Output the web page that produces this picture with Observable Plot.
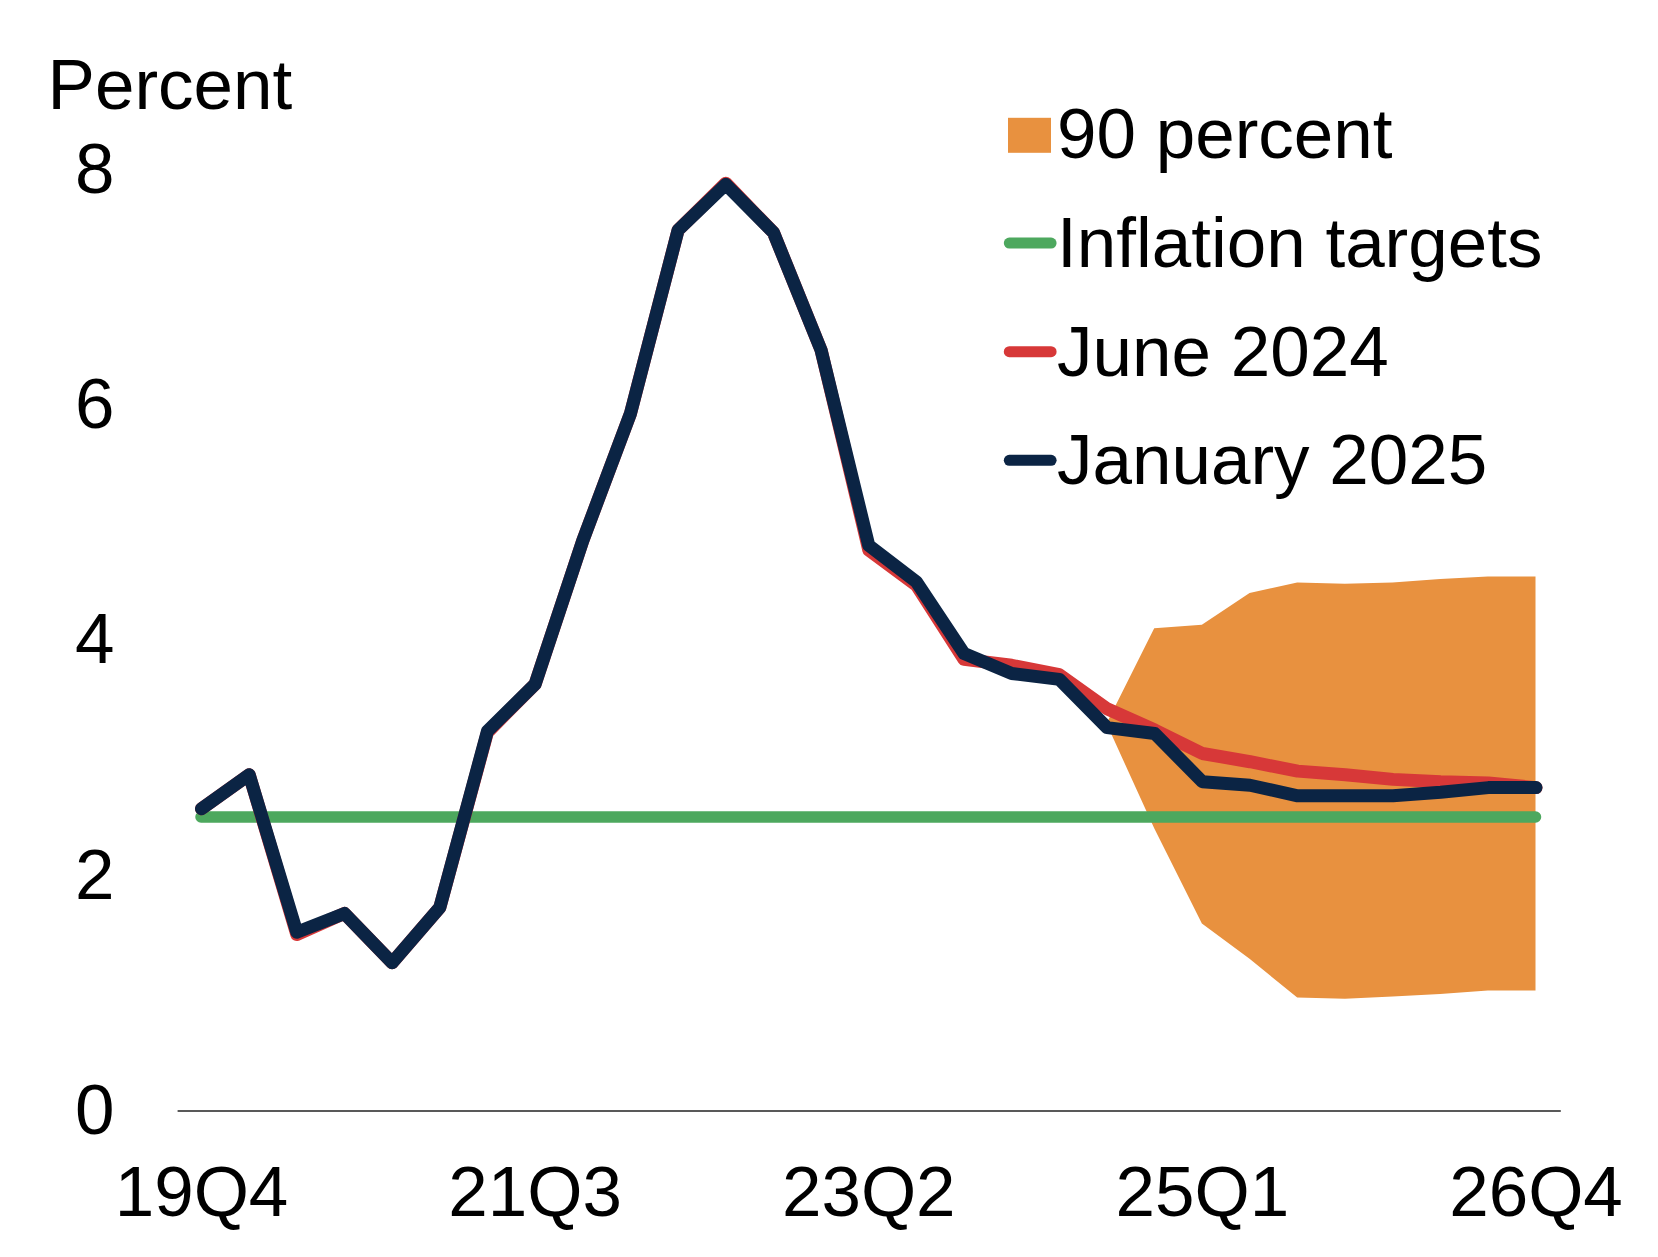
<!DOCTYPE html>
<html>
<head>
<meta charset="utf-8">
<script src="https://cdn.jsdelivr.net/npm/d3@7"></script>
<script src="https://cdn.jsdelivr.net/npm/@observablehq/plot@0.6"></script>
<style>
  html, body { margin: 0; padding: 0; background: #fff; }
  #chart { position: relative; width: 1658px; height: 1257px; }
  #chart svg { font-family: "Liberation Sans", Arial, Helvetica, sans-serif; }
</style>
</head>
<body>
<div id="chart"></div>
<script>
// Quarters on the horizontal axis
const quarters = ["19Q4","20Q1","20Q2","20Q3","20Q4","21Q1","21Q2","21Q3","21Q4",
  "22Q1","22Q2","22Q3","22Q4","23Q1","23Q2","23Q3","23Q4","24Q1","24Q2","24Q3","24Q4",
  "25Q1","25Q2","25Q3","25Q4","26Q1","26Q2","26Q3","26Q4"];
const xTickLabels = ["19Q4","21Q3","23Q2","25Q1","26Q4"];
const yTicks = [0, 2, 4, 6, 8];

// Inflation, percent: latest (January 2025) and previous (June 2024) paths
const jan2025 = [2.57, 2.86, 1.52, 1.68, 1.26, 1.73, 3.23, 3.63, 4.85, 5.93, 7.49, 7.88, 7.47, 6.47,
  4.81, 4.50, 3.89, 3.72, 3.67, 3.26, 3.21, 2.80, 2.77, 2.68, 2.68, 2.68, 2.71, 2.75, 2.75];
const jun2024 = [2.57, 2.86, 1.50, 1.68, 1.26, 1.73, 3.22, 3.63, 4.85, 5.93, 7.49, 7.89, 7.47, 6.47,
  4.77, 4.47, 3.84, 3.79, 3.71, 3.42, 3.24, 3.04, 2.97, 2.89, 2.86, 2.82, 2.80, 2.79, 2.75];

// 90 percent confidence band around the forecast
const bandQuarters = ["24Q3","24Q4","25Q1","25Q2","25Q3","25Q4","26Q1","26Q2","26Q3","26Q4"];
const bandLow  = [3.29, 2.40, 1.59, 1.29, 0.96, 0.95, 0.97, 0.99, 1.02, 1.02];
const bandHigh = [3.29, 4.10, 4.13, 4.40, 4.49, 4.48, 4.49, 4.52, 4.54, 4.54];

// Inflation targets
const targetValue = 2.5;

const colors = {
  band: "#E8913F",
  target: "#4DA85E",
  june: "#D73838",
  jan: "#0B2444"
};

const fontSize = 71;

const series = (vals) => quarters.map((q, i) => ({q, v: vals[i]}));
const janData = series(jan2025);
const junData = series(jun2024);
const bandData = bandQuarters.map((q, i) => ({q, lo: bandLow[i], hi: bandHigh[i]}));
const targetData = [{from: quarters[0], to: quarters[quarters.length - 1], value: targetValue}];

const chart = Plot.plot({
  width: 1658,
  height: 1257,
  marginLeft: 177.6,
  marginRight: 97.2,
  marginTop: 169.7,
  marginBottom: 146.5,
  insetLeft: 23.4,
  insetRight: 25.3,
  style: {fontFamily: '"Liberation Sans", Arial, sans-serif', fontSize: `${fontSize}px`, color: "#000", background: "#fff"},
  x: {type: "point", domain: quarters, padding: 0, round: false},
  y: {domain: [0, 8]},
  marks: [
    Plot.areaY(bandData, {x: "q", y1: "lo", y2: "hi", fill: colors.band}),
    Plot.ruleY(targetData, {y: "value", x1: "from", x2: "to", stroke: colors.target, strokeWidth: 11.5, strokeLinecap: "round"}),
    Plot.lineY(junData, {x: "q", y: "v", stroke: colors.june, strokeWidth: 13, strokeLinecap: "round", strokeLinejoin: "round"}),
    Plot.lineY(janData, {x: "q", y: "v", stroke: colors.jan, strokeWidth: 13, strokeLinecap: "round", strokeLinejoin: "round"}),
    Plot.ruleY([0], {stroke: "#222", strokeWidth: 1.6}),
    Plot.axisX({ticks: xTickLabels, tickSize: 0, tickPadding: 55, fontSize, label: null, fill: "#000"}),
    Plot.axisY({ticks: yTicks, tickSize: 0, tickPadding: 63.6, fontSize, label: null, fill: "#000"})
  ]
});

document.getElementById("chart").appendChild(chart);

// Unit label and in-plot legend
const svg = d3.select(chart);
svg.append("text")
  .attr("x", 47.6).attr("y", 109)
  .attr("text-anchor", "start")
  .attr("font-size", fontSize).attr("fill", "#000")
  .text("Percent");

const legendItems = [
  {label: "90 percent", kind: "box", color: colors.band},
  {label: "Inflation targets", kind: "line", color: colors.target},
  {label: "June 2024", kind: "line", color: colors.june},
  {label: "January 2025", kind: "line", color: colors.jan}
];
const legendX = 1057, legendY0 = 158.3, legendStep = 108.6;
const lg = svg.append("g").attr("text-anchor", "start");
legendItems.forEach((d, i) => {
  const base = legendY0 + i * legendStep;
  if (d.kind === "box") {
    lg.append("rect").attr("x", 1008).attr("y", base - 40.5).attr("width", 43).attr("height", 35).attr("fill", d.color);
  } else {
    lg.append("line").attr("x1", 1009.3).attr("x2", 1051.1).attr("y1", base - 23.8).attr("y2", base - 23.8)
      .attr("stroke", d.color).attr("stroke-width", 11).attr("stroke-linecap", "round");
  }
  lg.append("text").attr("x", legendX).attr("y", base).attr("font-size", fontSize).attr("fill", "#000").text(d.label);
});
</script>
</body>
</html>
